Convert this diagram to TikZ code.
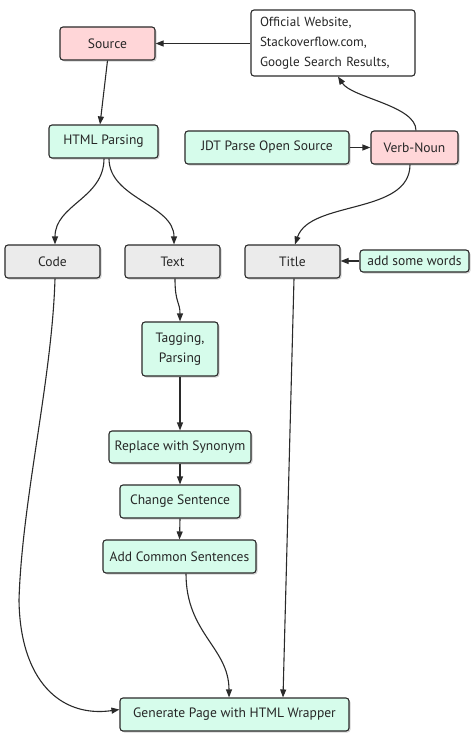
\documentclass[tikz,border=0pt]{standalone}
\usepackage{fontspec}
\setmainfont{PT Sans}
\usetikzlibrary{arrows.meta,shadows}
\definecolor{pinkf}{HTML}{FFD6D8}
\definecolor{greenf}{HTML}{D6FCEB}
\definecolor{greyf}{HTML}{EBEBEB}
\definecolor{edge}{HTML}{2A2A2A}
\tikzset{
  box/.style={draw=edge, line width=1.1bp, rounded corners=3bp, text=black!85,
    font=\fontsize{13.6}{20}\selectfont, inner sep=0pt,
    drop shadow={shadow xshift=1.5bp, shadow yshift=-1.5bp, opacity=0.35}},
  pinkbox/.style={box, fill=pinkf},
  greenbox/.style={box, fill=greenf},
  greybox/.style={box, fill=greyf},
  arr/.style={draw=edge, line width=1.1bp, -{Triangle[length=8bp,width=6bp]}},
}
\begin{document}
\begin{tikzpicture}[x=1bp,y=-1bp]
\useasboundingbox (0,0) rectangle (474,737);
% nodes
\node[pinkbox, minimum width=95bp, minimum height=33bp] (source) at (107.5,43.5) {Source};
\node[draw=edge, line width=1.1bp, rounded corners=3bp, fill=white, text=black!85,
  font=\fontsize{13.2}{20}\selectfont, minimum width=164bp, minimum height=66bp,
  text width=146bp, align=left, inner xsep=9bp, inner ysep=0pt] (official) at (333,43)
  {Official Website,\\Stackoverflow.com,\\Google Search Results,};
\node[greenbox, minimum width=109bp, minimum height=33bp] (html) at (103.5,141.5) {HTML Parsing};
\node[greenbox, minimum width=164bp, minimum height=33bp] (jdt) at (267,147.5) {JDT Parse Open Source};
\node[pinkbox, minimum width=87bp, minimum height=33bp] (verb) at (414.5,147.5) {Verb-Noun};
\node[greybox, minimum width=95bp, minimum height=33bp] (code) at (52.5,261.5) {Code};
\node[greybox, minimum width=95bp, minimum height=33bp] (text) at (172.5,261.5) {Text};
\node[greybox, minimum width=95bp, minimum height=33bp] (title) at (292.5,261.5) {Title};
\node[greenbox, minimum width=109bp, minimum height=22bp] (words) at (414.5,261) {add some words};
\node[greenbox, minimum width=76bp, minimum height=54bp, align=center] (tag) at (180,349) {Tagging,\\Parsing};
\node[greenbox, minimum width=142bp, minimum height=32bp] (repl) at (180,447) {Replace with Synonym};
\node[greenbox, minimum width=120bp, minimum height=33bp] (chg) at (180,501.5) {Change Sentence};
\node[greenbox, minimum width=153bp, minimum height=33bp] (add) at (179.5,556.5) {Add Common Sentences};
\node[greenbox, minimum width=229bp, minimum height=33bp] (gen) at (234.5,714.5) {Generate Page with HTML Wrapper};
% connectors
\draw[arr] (official.west |- source.east) -- (source.east);
\draw[arr] (source.south) -- ([xshift=-3.5bp]html.north);
\draw[arr] ([xshift=0.5bp]html.south) .. controls +(0,40) and +(0,-40) .. ([xshift=2.5bp]code.north);
\draw[arr] ([xshift=5.5bp]html.south) .. controls +(0,40) and +(0,-40) .. ([xshift=1.5bp]text.north);
\draw[arr] (jdt.east) -- (verb.west);
\draw[arr] ([xshift=1.5bp]verb.north) .. controls +(0,-25) and (352,98) .. ([xshift=5bp]official.south);
\draw[arr] ([xshift=-4.5bp]verb.south) .. controls (410,215) and (310,200) .. ([xshift=2.5bp]title.north);
\draw[arr] (words.west) -- (title.east |- words.west);
\draw[arr] ([xshift=2.5bp]text.south) .. controls +(0,25) and +(0,-20) .. (tag.north);
\draw[arr] (tag.south) -- (repl.north);
\draw[arr] (repl.south) -- (chg.north);
\draw[arr] (chg.south) -- (add.north);
\draw[arr] ([xshift=6.5bp]add.south) .. controls +(0,60) and +(0,-50) .. ([xshift=-5.5bp]gen.north);
\draw[arr] ([xshift=1.5bp]title.south) -- ([xshift=48.5bp]gen.north);
\draw[arr] ([xshift=2.5bp]code.south) .. controls (52,380) and (22,500) .. (19,600)
  .. controls (20,680) and (60,718) .. ([yshift=5bp]gen.west);
\end{tikzpicture}
\end{document}
